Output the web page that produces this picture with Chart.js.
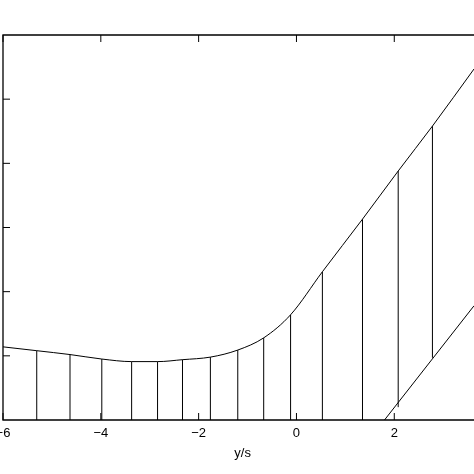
<!DOCTYPE html>
<html><head><meta charset="utf-8">
<script src="https://cdn.jsdelivr.net/npm/chart.js@4"></script>
<style>html,body{margin:0;padding:0;background:#fff}#w{width:474px;height:474px}</style>
</head><body><div id="w"><canvas id="c"></canvas></div>
<script>
const upperX = [-6,-5.31,-4.63,-3.98,-3.37,-2.84,-2.33,-1.76,-1.2,-0.67,-0.12,0.53,1.35,2.08,2.78,3.63];
const upperY = [1.14,1.08,1.02,0.95,0.91,0.91,0.94,0.98,1.09,1.28,1.64,2.31,3.13,3.88,4.58,5.47];
const lowerX = [1.8,3.63];
const lowerY = [0,1.78];
// vertical lines: x, bottom, top
const vlineX = [-5.31,-4.63,-3.98,-3.37,-2.84,-2.33,-1.76,-1.2,-0.67,-0.12,0.53,1.35,2.08,2.78];
const vlineBottom = [0,0,0,0,0,0,0,0,0,0,0,0,0.2,0.97];
const vlineTop = [1.08,1.02,0.95,0.91,0.91,0.94,0.98,1.09,1.28,1.64,2.31,3.13,3.88,4.58];
const xTicks = [-6,-4,-2,0,2];
const yTicks = [1,2,3,4,5];
const xTitle = 'y/s';

const ds = [];
ds.push({data: upperX.map((x,i)=>({x, y: upperY[i]})), cubicInterpolationMode:'monotone'});
ds.push({data: lowerX.map((x,i)=>({x, y: lowerY[i]}))});
vlineX.forEach((x,i)=>ds.push({data:[{x,y:vlineBottom[i]},{x,y:vlineTop[i]}]}));
ds.forEach(d=>{d.borderColor='#000';d.borderWidth=1;d.pointRadius=0;d.showLine=true;d.fill=false;});

const frame = {id:'frame', afterDraw(ch){
  const c=ch.ctx, a=ch.chartArea, sx=ch.scales.x, sy=ch.scales.y;
  c.save(); c.strokeStyle='#000'; c.lineWidth=1.3;
  c.beginPath(); c.moveTo(a.right+5,a.top); c.lineTo(a.left,a.top); c.lineTo(a.left,a.bottom); c.lineTo(a.right+5,a.bottom); c.stroke();
  c.lineWidth=1;
  xTicks.forEach(v=>{const p=sx.getPixelForValue(v); c.beginPath(); c.moveTo(p,a.bottom); c.lineTo(p,a.bottom-7); c.moveTo(p,a.top); c.lineTo(p,a.top+7); c.stroke();});
  yTicks.forEach(v=>{const p=sy.getPixelForValue(v); c.beginPath(); c.moveTo(a.left,p); c.lineTo(a.left+7,p); c.stroke();});
  c.fillStyle='#000'; c.font='13px "Liberation Sans", Arial, sans-serif'; c.textAlign='center'; c.textBaseline='top';
  xTicks.forEach(v=>{const p=sx.getPixelForValue(v); c.fillText(v<0?'\u2212'+(-v):String(v), p, a.bottom+7);});
  c.fillText(xTitle, sx.getPixelForValue(-1.1), a.bottom+27);
  c.restore();
}};

new Chart(document.getElementById('c'), {
  type:'scatter',
  data:{datasets:ds},
  options:{responsive:true, maintainAspectRatio:false, animation:false,
    layout:{padding:{left:3,top:35,bottom:54,right:0}},
    plugins:{legend:{display:false},tooltip:{enabled:false}},
    scales:{x:{type:'linear',min:-6,max:3.63,display:false},
            y:{type:'linear',min:0,max:6,display:false}}},
  plugins:[frame]
});
</script></body></html>
